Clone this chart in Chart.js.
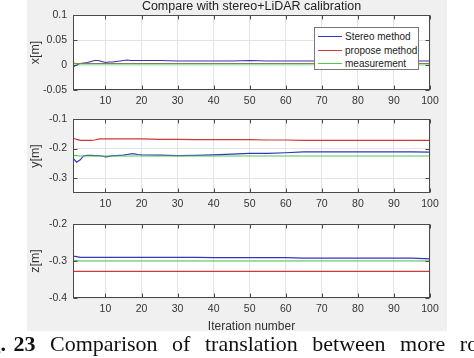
<!DOCTYPE html>
<html><head><meta charset="utf-8">
<script src="https://cdn.jsdelivr.net/npm/chart.js@4.4.1/dist/chart.umd.min.js"></script>
<style>
html,body{margin:0;padding:0}
body{width:474px;height:358px;overflow:hidden;background:#fff;position:relative;font-family:"Liberation Sans",Arial,sans-serif}
#bg{position:absolute;left:27px;top:0;width:420px;height:331px;background:#f0f0f0}
.cv{position:absolute;left:0}
#title{position:absolute;left:73px;width:357px;top:-1px;line-height:14px;font-size:12.5px;text-align:center;color:#222;white-space:nowrap}
#xlab{position:absolute;left:73px;width:357px;top:319px;line-height:14px;font-size:12px;text-align:center;color:#333}
#legend{position:absolute;left:314px;top:27px;width:105px;height:43px;box-sizing:border-box;background:#fff;border:1px solid #777;font-size:10px;color:#222}
.row{position:absolute;left:0;height:13px;line-height:13px;white-space:nowrap}
.row span.ln{position:absolute;left:3px;top:6px;width:24px;height:0;border-top:1px solid}
.row span.tx{position:absolute;left:30px;top:0}
#cap{position:absolute;left:-30px;top:331px;font-family:"Liberation Serif","Times New Roman",serif;font-size:22px;line-height:26px;white-space:nowrap;word-spacing:9px;color:#111}
#cap b{word-spacing:2px}
</style>
</head><body>
<div id="bg"></div>
<canvas id="c1" class="cv" width="474" height="110" style="top:0px"></canvas>
<canvas id="c2" class="cv" width="474" height="109" style="top:104px"></canvas>
<canvas id="c3" class="cv" width="474" height="109" style="top:209px"></canvas>
<div id="title">Compare with stereo+LiDAR calibration</div>
<div id="xlab">Iteration number</div>
<div id="legend">
  <div class="row" style="top:2px"><span class="ln" style="border-color:#3434c4"></span><span class="tx">Stereo method</span></div>
  <div class="row" style="top:15.5px"><span class="ln" style="border-color:#cc3a3a"></span><span class="tx">propose method</span></div>
  <div class="row" style="top:29px"><span class="ln" style="border-color:#4ccc4c"></span><span class="tx">measurement</span></div>
</div>
<div id="cap"><b>Fig. 23</b> Comparison of translation between more robust</div>
<script>
// ---- data ----
const iterations = [1,2,3,4,5,6,7,8,9,10,11,12,13,14,15,16,17,18,19,20,25,30,35,40,45,50,55,60,65,70,75,80,85,90,95,100];
const seriesNames = ["Stereo method","propose method","measurement"];

const xStereo  = [-0.004,0.000,0.003,0.004,0.005,0.007,0.009,0.009,0.007,0.005,0.006,0.006,0.007,0.008,0.009,0.010,0.009,0.009,0.009,0.009,0.009,0.008,0.008,0.008,0.008,0.009,0.008,0.008,0.008,0.008,0.008,0.008,0.008,0.008,0.008,0.008];
const xPropose = [0.004,0.003,0.003,0.003,0.003,0.003,0.003,0.003,0.003,0.003,0.003,0.003,0.003,0.003,0.003,0.003,0.003,0.003,0.003,0.003,0.003,0.003,0.003,0.003,0.003,0.003,0.003,0.003,0.003,0.003,0.003,0.003,0.003,0.003,0.003,0.003];
const xMeasure = [0.003,0.002,0.002,0.002,0.002,0.002,0.002,0.002,0.002,0.002,0.002,0.002,0.002,0.002,0.002,0.002,0.002,0.002,0.002,0.002,0.002,0.002,0.002,0.002,0.002,0.002,0.002,0.002,0.002,0.002,0.002,0.002,0.002,0.002,0.002,0.002];

const yStereo  = [-0.232,-0.246,-0.238,-0.224,-0.223,-0.223,-0.224,-0.224,-0.225,-0.228,-0.226,-0.224,-0.224,-0.223,-0.222,-0.220,-0.218,-0.218,-0.220,-0.221,-0.222,-0.224,-0.223,-0.221,-0.219,-0.216,-0.216,-0.214,-0.211,-0.211,-0.211,-0.211,-0.211,-0.211,-0.211,-0.212];
const yPropose = [-0.165,-0.169,-0.172,-0.172,-0.172,-0.172,-0.171,-0.168,-0.167,-0.167,-0.167,-0.167,-0.167,-0.167,-0.167,-0.167,-0.167,-0.167,-0.167,-0.167,-0.169,-0.169,-0.170,-0.170,-0.170,-0.170,-0.171,-0.171,-0.172,-0.172,-0.172,-0.172,-0.172,-0.172,-0.172,-0.172];
const yMeasure = [-0.223,-0.224,-0.225,-0.225,-0.225,-0.225,-0.225,-0.225,-0.225,-0.225,-0.225,-0.225,-0.225,-0.225,-0.225,-0.225,-0.225,-0.225,-0.225,-0.225,-0.225,-0.225,-0.225,-0.225,-0.225,-0.225,-0.225,-0.225,-0.225,-0.225,-0.225,-0.225,-0.225,-0.225,-0.225,-0.225];

const zStereo  = [-0.287,-0.288,-0.290,-0.290,-0.290,-0.290,-0.290,-0.290,-0.290,-0.290,-0.290,-0.290,-0.290,-0.290,-0.290,-0.290,-0.290,-0.290,-0.290,-0.290,-0.290,-0.290,-0.290,-0.291,-0.291,-0.291,-0.291,-0.291,-0.292,-0.292,-0.292,-0.292,-0.292,-0.292,-0.292,-0.294];
const zPropose = [-0.328,-0.328,-0.328,-0.328,-0.328,-0.328,-0.328,-0.328,-0.328,-0.328,-0.328,-0.328,-0.328,-0.328,-0.328,-0.328,-0.328,-0.328,-0.328,-0.328,-0.328,-0.328,-0.328,-0.328,-0.328,-0.328,-0.328,-0.328,-0.328,-0.328,-0.328,-0.328,-0.328,-0.328,-0.328,-0.328];
const zMeasure = [-0.298,-0.299,-0.300,-0.300,-0.300,-0.300,-0.300,-0.300,-0.300,-0.300,-0.300,-0.300,-0.300,-0.300,-0.300,-0.300,-0.300,-0.300,-0.300,-0.300,-0.300,-0.300,-0.300,-0.300,-0.300,-0.300,-0.300,-0.300,-0.300,-0.300,-0.300,-0.300,-0.300,-0.300,-0.300,-0.300];

const xTicks  = [10,20,30,40,50,60,70,80,90,100];
const yTicks1 = [-0.05,0,0.05,0.1];
const yTicks2 = [-0.3,-0.2,-0.1];
const yTicks3 = [-0.4,-0.3,-0.2];

// ---- styling helpers ----
const colors = ["#3434c4","#cc3a3a","#4ccc4c"];
const tickFont = {family:"Liberation Sans", size:10.5};

const framePlugin = {
  id:'frame',
  beforeDraw(c){
    const a=c.chartArea, g=c.ctx;
    g.save(); g.fillStyle='#ffffff';
    g.fillRect(a.left,a.top,a.right-a.left,a.bottom-a.top); g.restore();
  },
  afterDatasetsDraw(c){
    const a=c.chartArea, g=c.ctx;
    const L=Math.round(a.left)+0.5, R=Math.round(a.right)-0.5, T=Math.round(a.top)+0.5, B=Math.round(a.bottom)-0.5;
    g.save();
    g.strokeStyle='#4a4a4a'; g.lineWidth=1;
    g.strokeRect(L,T,R-L,B-T);
    g.beginPath();
    const xs=c.scales.x, ys=c.scales.y;
    xs.ticks.forEach(t=>{
      const p=Math.round(xs.getPixelForValue(t.value))+0.5;
      g.moveTo(p,B); g.lineTo(p,B-4);
      g.moveTo(p,T); g.lineTo(p,T+4);
    });
    ys.ticks.forEach(t=>{
      const p=Math.round(ys.getPixelForValue(t.value))+0.5;
      g.moveTo(L,p); g.lineTo(L+4,p);
      g.moveTo(R,p); g.lineTo(R-4,p);
    });
    g.stroke(); g.restore();
  }
};

function makeChart(id, series, yMin, yMax, yTicks, yTitle){
  const datasets = series.map((vals,i)=>({
    label: seriesNames[i],
    data: iterations.map((it,k)=>({x:it, y:vals[k]})),
    borderColor: colors[i],
    backgroundColor: colors[i],
    borderWidth: 1.2,
    pointRadius: 0,
    tension: 0,
    fill: false,
    order: 2 - i
  }));
  return new Chart(document.getElementById(id), {
    type:'line',
    data:{datasets},
    plugins:[framePlugin],
    options:{
      responsive:false, animation:false, devicePixelRatio:1,
      layout:{padding:{left:27, right:44, top:15, bottom:0}},
      plugins:{legend:{display:false}, tooltip:{enabled:false}, title:{display:false}},
      scales:{
        x:{
          type:'linear', min:1, max:100,
          afterBuildTicks:s=>{ s.ticks = xTicks.map(v=>({value:v})); },
          afterFit:s=>{ s.height = 20; },
          grid:{color:'#e4e4e4', drawTicks:false, lineWidth:1},
          border:{display:false},
          ticks:{font:tickFont, color:'#333', padding:5, maxRotation:0, autoSkip:false,
                 callback:v=>String(v)}
        },
        y:{
          type:'linear', min:yMin, max:yMax,
          afterBuildTicks:s=>{ s.ticks = yTicks.map(v=>({value:v})); },
          afterFit:s=>{ s.width = 46; },
          grid:{color:'#e4e4e4', drawTicks:false, lineWidth:1},
          border:{display:false},
          ticks:{font:tickFont, color:'#333', padding:6, autoSkip:false,
                 callback:v=>String(v)},
          title:{display:true, text:yTitle, color:'#333',
                 font:{family:"Liberation Sans", size:12.5}, padding:{top:1,bottom:0}}
        }
      }
    }
  });
}

makeChart('c1', [xStereo,xPropose,xMeasure], -0.05, 0.1, yTicks1, 'x[m]');
makeChart('c2', [yStereo,yPropose,yMeasure], -0.35, -0.1, yTicks2, 'y[m]');
makeChart('c3', [zStereo,zPropose,zMeasure], -0.4, -0.2, yTicks3, 'z[m]');
</script>
</body></html>
